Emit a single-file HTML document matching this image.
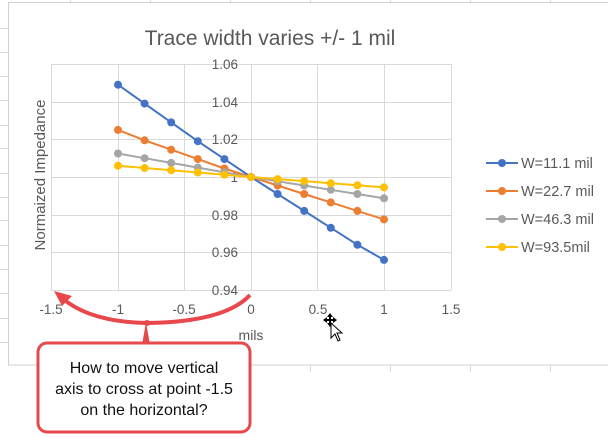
<!DOCTYPE html>
<html><head><meta charset="utf-8"><style>
html,body{margin:0;padding:0;background:#fff;}
svg{display:block;font-family:"Liberation Sans",sans-serif;}
</style></head><body>
<svg width="608" height="437" viewBox="0 0 608 437" xmlns="http://www.w3.org/2000/svg">
<g stroke="#d9d9d9" stroke-width="1">
<line x1="0" y1="28.5" x2="8" y2="28.5"/><line x1="0" y1="52.5" x2="8" y2="52.5"/><line x1="0" y1="76.5" x2="8" y2="76.5"/><line x1="0" y1="100.5" x2="8" y2="100.5"/><line x1="0" y1="125.5" x2="8" y2="125.5"/><line x1="0" y1="148.5" x2="8" y2="148.5"/><line x1="0" y1="173.5" x2="8" y2="173.5"/><line x1="0" y1="197.5" x2="8" y2="197.5"/><line x1="0" y1="220.5" x2="8" y2="220.5"/><line x1="0" y1="245.5" x2="8" y2="245.5"/><line x1="0" y1="269.5" x2="8" y2="269.5"/><line x1="0" y1="293.5" x2="8" y2="293.5"/><line x1="0" y1="318.5" x2="8" y2="318.5"/><line x1="0" y1="342.5" x2="8" y2="342.5"/>
<line x1="70.5" y1="0" x2="70.5" y2="2"/><line x1="150.5" y1="0" x2="150.5" y2="2"/><line x1="230.5" y1="0" x2="230.5" y2="2"/><line x1="310.5" y1="0" x2="310.5" y2="2"/><line x1="390.5" y1="0" x2="390.5" y2="2"/><line x1="470.5" y1="0" x2="470.5" y2="2"/><line x1="550.5" y1="0" x2="550.5" y2="2"/>
<line x1="310.5" y1="365" x2="310.5" y2="372"/><line x1="390.5" y1="365" x2="390.5" y2="372"/><line x1="470.5" y1="365" x2="470.5" y2="372"/><line x1="550.5" y1="365" x2="550.5" y2="372"/>
</g>
<rect x="8.5" y="2.5" width="605" height="362.5" fill="#fff" stroke="#d0d0d0"/>
<text x="270" y="45" font-size="21" fill="#595959" text-anchor="middle">Trace width varies +/- 1 mil</text>
<g stroke="#d9d9d9" stroke-width="1">
<line x1="51" y1="64.5" x2="451" y2="64.5"/><line x1="51" y1="102.5" x2="451" y2="102.5"/><line x1="51" y1="139.5" x2="451" y2="139.5"/><line x1="51" y1="177.5" x2="451" y2="177.5"/><line x1="51" y1="215.5" x2="451" y2="215.5"/><line x1="51" y1="252.5" x2="451" y2="252.5"/><line x1="51" y1="290.5" x2="451" y2="290.5"/>
<line x1="51.5" y1="64" x2="51.5" y2="290"/><line x1="118.5" y1="64" x2="118.5" y2="290"/><line x1="184.5" y1="64" x2="184.5" y2="290"/><line x1="251.5" y1="64" x2="251.5" y2="290"/><line x1="317.5" y1="64" x2="317.5" y2="290"/><line x1="384.5" y1="64" x2="384.5" y2="290"/><line x1="451.5" y1="64" x2="451.5" y2="290"/>
</g>
<g font-size="13.5" fill="#595959" text-anchor="end">
<text x="238" y="69">1.06</text><text x="238" y="107">1.04</text><text x="238" y="144">1.02</text><text x="238" y="182">1</text><text x="238" y="220">0.98</text><text x="238" y="257">0.96</text><text x="238" y="295">0.94</text>
</g>
<g font-size="13.5" fill="#595959" text-anchor="middle">
<text x="51" y="314">-1.5</text><text x="118" y="314">-1</text><text x="184" y="314">-0.5</text><text x="251" y="314">0</text><text x="318" y="314">0.5</text><text x="384" y="314">1</text><text x="451" y="314">1.5</text>
<text x="251" y="340" font-size="14">mils</text>
</g>
<text transform="translate(45,175) rotate(-90)" font-size="15" fill="#595959" text-anchor="middle">Normaized Impedance</text>
<g fill="none" stroke-width="2">
<polyline stroke="#4472c4" points="118,84.7 144.6,103.6 171.2,122.4 197.8,141.2 224.4,159.1 251,177 277.6,194 304.2,210.9 330.8,227.8 357.4,244.8 384,259.9"/>
<polyline stroke="#ed7d31" points="118,129.9 144.6,140.3 171.2,149.7 197.8,159.1 224.4,168.5 251,177 277.6,185.5 304.2,194 330.8,202.4 357.4,210.9 384,219.4"/>
<polyline stroke="#a5a5a5" points="118,153.5 144.6,158.2 171.2,162.9 197.8,167.6 224.4,172.3 251,177 277.6,181.3 304.2,185.5 330.8,189.8 357.4,194 384,198.3"/>
<polyline stroke="#ffc000" points="118,165.7 144.6,168 171.2,170.2 197.8,172.5 224.4,174.7 251,177 277.6,179.1 304.2,181.1 330.8,183.2 357.4,185.3 384,187.4"/>
</g>
<g fill="#4472c4"><circle cx="118" cy="84.7" r="4"/><circle cx="144.6" cy="103.6" r="4"/><circle cx="171.2" cy="122.4" r="4"/><circle cx="197.8" cy="141.2" r="4"/><circle cx="224.4" cy="159.1" r="4"/><circle cx="251" cy="177" r="4"/><circle cx="277.6" cy="194" r="4"/><circle cx="304.2" cy="210.9" r="4"/><circle cx="330.8" cy="227.8" r="4"/><circle cx="357.4" cy="244.8" r="4"/><circle cx="384" cy="259.9" r="4"/></g>
<g fill="#ed7d31"><circle cx="118" cy="129.9" r="4"/><circle cx="144.6" cy="140.3" r="4"/><circle cx="171.2" cy="149.7" r="4"/><circle cx="197.8" cy="159.1" r="4"/><circle cx="224.4" cy="168.5" r="4"/><circle cx="251" cy="177" r="4"/><circle cx="277.6" cy="185.5" r="4"/><circle cx="304.2" cy="194" r="4"/><circle cx="330.8" cy="202.4" r="4"/><circle cx="357.4" cy="210.9" r="4"/><circle cx="384" cy="219.4" r="4"/></g>
<g fill="#a5a5a5"><circle cx="118" cy="153.5" r="4"/><circle cx="144.6" cy="158.2" r="4"/><circle cx="171.2" cy="162.9" r="4"/><circle cx="197.8" cy="167.6" r="4"/><circle cx="224.4" cy="172.3" r="4"/><circle cx="251" cy="177" r="4"/><circle cx="277.6" cy="181.3" r="4"/><circle cx="304.2" cy="185.5" r="4"/><circle cx="330.8" cy="189.8" r="4"/><circle cx="357.4" cy="194" r="4"/><circle cx="384" cy="198.3" r="4"/></g>
<g fill="#ffc000"><circle cx="118" cy="165.7" r="4"/><circle cx="144.6" cy="168" r="4"/><circle cx="171.2" cy="170.2" r="4"/><circle cx="197.8" cy="172.5" r="4"/><circle cx="224.4" cy="174.7" r="4"/><circle cx="251" cy="177" r="4"/><circle cx="277.6" cy="179.1" r="4"/><circle cx="304.2" cy="181.1" r="4"/><circle cx="330.8" cy="183.2" r="4"/><circle cx="357.4" cy="185.3" r="4"/><circle cx="384" cy="187.4" r="4"/></g>
<g stroke-width="2">
<line x1="486" y1="163" x2="518" y2="163" stroke="#4472c4"/><circle cx="502" cy="163" r="4" fill="#4472c4"/>
<line x1="486" y1="191" x2="518" y2="191" stroke="#ed7d31"/><circle cx="502" cy="191" r="4" fill="#ed7d31"/>
<line x1="486" y1="219" x2="518" y2="219" stroke="#a5a5a5"/><circle cx="502" cy="219" r="4" fill="#a5a5a5"/>
<line x1="486" y1="247" x2="518" y2="247" stroke="#ffc000"/><circle cx="502" cy="247" r="4" fill="#ffc000"/>
</g>
<g font-size="14.5" fill="#595959">
<text x="521" y="168">W=11.1 mil</text><text x="521" y="196">W=22.7 mil</text><text x="521" y="224">W=46.3 mil</text><text x="521" y="252">W=93.5mil</text>
</g>
<path d="M250,295 Q225,322 147,323 Q90,322 62,298" fill="none" stroke="#e8474b" stroke-width="4"/>
<polygon points="54,291 72,296 62,306" fill="#e8474b"/>
<path d="M146,322 L142,345 L150,345 Z" fill="#e8474b"/>
<circle cx="147" cy="323" r="3" fill="#e8474b"/>
<rect x="38" y="343" width="212" height="89" rx="9" fill="#fff" stroke="#e8474b" stroke-width="3"/>
<g font-size="16" fill="#111" text-anchor="middle">
<text x="144" y="373">How to move vertical</text><text x="144" y="394">axis to cross at point -1.5</text><text x="144" y="415">on the horizontal?</text>
</g>
<g transform="translate(330,320)">
<path d="M0,-7 L3,-3 L1,-3 L1,-1 L3,-1 L3,-3 L7,0 L3,3 L3,1 L1,1 L1,3 L3,3 L0,7 L-3,3 L-1,3 L-1,1 L-3,1 L-3,3 L-7,0 L-3,-3 L-3,-1 L-1,-1 L-1,-3 L-3,-3 Z" fill="#000"/>
<path d="M1,3 L1,18 L5,14 L8,21 L10,20 L7,13 L12,13 Z" fill="#fff" stroke="#000" stroke-width="1"/>
</g>
</svg>
</body></html>
